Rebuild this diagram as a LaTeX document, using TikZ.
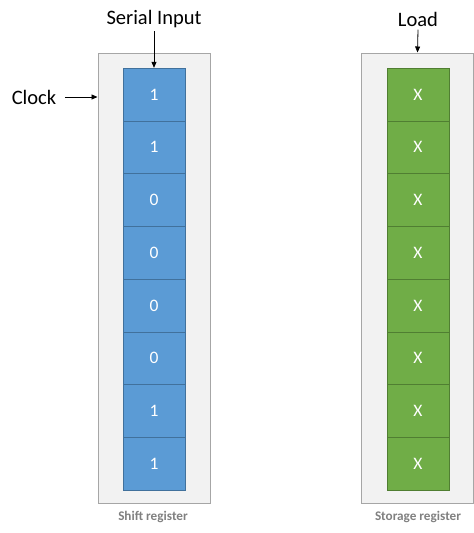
\documentclass[tikz,border=0pt]{standalone}
\usepackage{fontspec}
\setmainfont{Carlito}
\usetikzlibrary{arrows.meta}
\definecolor{regblue}{HTML}{5B9BD5}
\definecolor{regblueline}{HTML}{41719C}
\definecolor{reggreen}{HTML}{70AD47}
\definecolor{reggreenline}{HTML}{507E32}
\definecolor{boxfill}{HTML}{F2F2F2}
\definecolor{boxline}{HTML}{A6A6A6}
\definecolor{captiongray}{HTML}{808080}
\tikzset{
  regbox/.style={draw=boxline, fill=boxfill, line width=1pt, minimum width=112pt, minimum height=450pt, inner sep=0pt},
  bitblue/.style={draw=regblueline, fill=regblue, text=white, minimum width=62pt, minimum height=52.75pt, inner sep=0pt, font=\fontsize{17.5}{20}\selectfont},
  bitgreen/.style={draw=reggreenline, fill=reggreen, text=white, minimum width=62pt, minimum height=52.75pt, inner sep=0pt, font=\fontsize{17.5}{20}\selectfont},
  caption/.style={text=captiongray, font=\bfseries\fontsize{13.2}{15}\selectfont},
  toplabel/.style={font=\fontsize{20.5}{24}\selectfont},
  sig/.style={-{Triangle[length=6pt,width=5pt]}, line width=0.8pt}
}
\begin{document}
\begin{tikzpicture}[x=1pt,y=-1pt]
\useasboundingbox (0,0) rectangle (474,533);
\node[regbox] (sbox) at (154,278){};
\node[regbox] (stbox) at (417.5,278){};
% shift register
\node[bitblue] (sr0) at (154,94.4){1};
\node[bitblue] (sr1) at (154,147.1){1};
\node[bitblue] (sr2) at (154,199.9){0};
\node[bitblue] (sr3) at (154,252.6){0};
\node[bitblue] (sr4) at (154,305.4){0};
\node[bitblue] (sr5) at (154,358.1){0};
\node[bitblue] (sr6) at (154,410.9){1};
\node[bitblue] (sr7) at (154,463.6){1};
% storage register
\node[bitgreen] (st0) at (418,94.4){X};
\node[bitgreen] (st1) at (418,147.1){X};
\node[bitgreen] (st2) at (418,199.9){X};
\node[bitgreen] (st3) at (418,252.6){X};
\node[bitgreen] (st4) at (418,305.4){X};
\node[bitgreen] (st5) at (418,358.1){X};
\node[bitgreen] (st6) at (418,410.9){X};
\node[bitgreen] (st7) at (418,463.6){X};
% inputs
\node[toplabel] (sin) at (154,19){Serial Input};
\node[toplabel] (ld) at (418,19){Load};
\node[toplabel] (clk) at (34,97){Clock};
\draw[sig](sin.south) -- (sr0.north);
\draw[sig](ld.south) -- (stbox.north);
\draw[sig](clk.east) ++(5pt,0) -- (sbox.west |- clk.east);
\node[caption] (scap) at (153,517){Shift register};
\node[caption] (stcap) at (418,517){Storage register};
\end{tikzpicture}
\end{document}
